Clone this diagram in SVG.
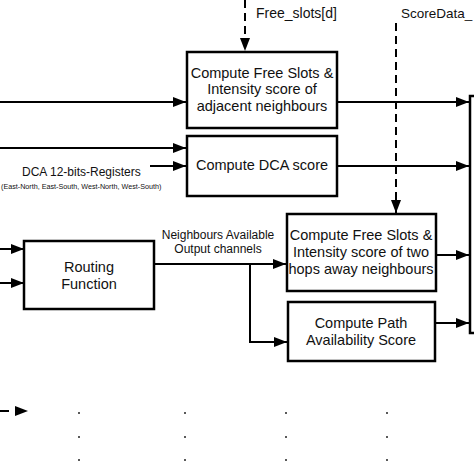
<svg xmlns="http://www.w3.org/2000/svg" width="474" height="474" viewBox="0 0 474 474">
<defs>
<marker id="ah" viewBox="0 0 13 10" refX="13" refY="5" markerWidth="13" markerHeight="10" markerUnits="userSpaceOnUse" orient="auto">
<path d="M0,0 L13,5 L0,10 Z" fill="#000"/>
</marker>
</defs>
<style>
.box{fill:#fff;stroke:#000;stroke-width:2.5}
.t{font-family:"Liberation Sans",Arial,sans-serif;font-size:14.5px;fill:#111;text-anchor:middle}
.s{font-family:"Liberation Sans",Arial,sans-serif;font-size:12px;fill:#111}
.ar{fill:none;stroke:#000;stroke-width:2;marker-end:url(#ah)}
.da{fill:none;stroke:#000;stroke-width:2;stroke-dasharray:8,5;marker-end:url(#ah)}
.dot{fill:#222}
</style>
<rect width="474" height="474" fill="#fff"/>
<g id="connectors">
<path class="da" d="M245,0 V51"/>
<path class="da" d="M396,23 V213"/>
<path class="ar" d="M0,102 H186"/>
<path class="ar" d="M0,148 H186"/>
<path class="ar" d="M150,166 H186"/>
<path class="ar" d="M337,102 H469"/>
<path class="ar" d="M337,166 H469"/>
<path class="ar" d="M0,249 H24"/>
<path class="ar" d="M0,283 H24"/>
<path class="ar" d="M155,264 H286"/>
<path class="ar" d="M250,264 V342 H287"/>
<path class="ar" d="M436,255 H469"/>
<path class="ar" d="M436,323 H469"/>
<path class="da" style="stroke-dasharray:9,6" d="M0,411 H28"/>
</g>
<g id="labels">
<text class="s" style="font-size:14px" x="256" y="18">Free_slots[d]</text>
<text class="s" style="font-size:13.5px" x="401" y="18">ScoreData_</text>
<text class="s" x="22" y="176">DCA 12-bits-Registers</text>
<text class="s" style="font-size:7.2px" x="1" y="189">(East-North, East-South, West-North, West-South)</text>
<text class="s" x="218" y="239" text-anchor="middle">Neighbours Available</text>
<text class="s" x="218" y="253" text-anchor="middle">Output channels</text>
</g>
<g id="n1">
<rect class="box" x="187" y="52" width="150" height="76"/>
<text class="t" x="262" y="78">Compute Free Slots &amp;</text>
<text class="t" x="262" y="94">Intensity score of</text>
<text class="t" x="262" y="111">adjacent neighbours</text>
</g>
<g id="n2">
<rect class="box" x="187" y="136" width="150" height="60"/>
<text class="t" x="262" y="170">Compute DCA score</text>
</g>
<g id="n3">
<rect class="box" x="24" y="241" width="130" height="68"/>
<text class="t" x="89" y="272">Routing</text>
<text class="t" x="89" y="289">Function</text>
</g>
<g id="n4">
<rect class="box" x="287" y="214" width="149" height="77"/>
<text class="t" x="361" y="240">Compute Free Slots &amp;</text>
<text class="t" x="361" y="257">Intensity score of two</text>
<text class="t" x="361" y="274">hops away neighbours</text>
</g>
<g id="n5">
<rect class="box" x="288" y="302" width="147" height="59"/>
<text class="t" x="361" y="328">Compute Path</text>
<text class="t" x="361" y="345">Availability Score</text>
</g>
<g id="n6">
<rect class="box" x="470" y="96" width="20" height="237"/>
</g>
<g id="dots">
<circle class="dot" cx="79" cy="413" r="1"/><circle class="dot" cx="185" cy="413" r="1"/><circle class="dot" cx="286" cy="413" r="1"/><circle class="dot" cx="387" cy="413" r="1"/>
<circle class="dot" cx="79" cy="437" r="1"/><circle class="dot" cx="185" cy="437" r="1"/><circle class="dot" cx="286" cy="437" r="1"/><circle class="dot" cx="387" cy="437" r="1"/>
<circle class="dot" cx="79" cy="460" r="1"/><circle class="dot" cx="185" cy="460" r="1"/><circle class="dot" cx="286" cy="460" r="1"/><circle class="dot" cx="387" cy="460" r="1"/>
</g>
</svg>
